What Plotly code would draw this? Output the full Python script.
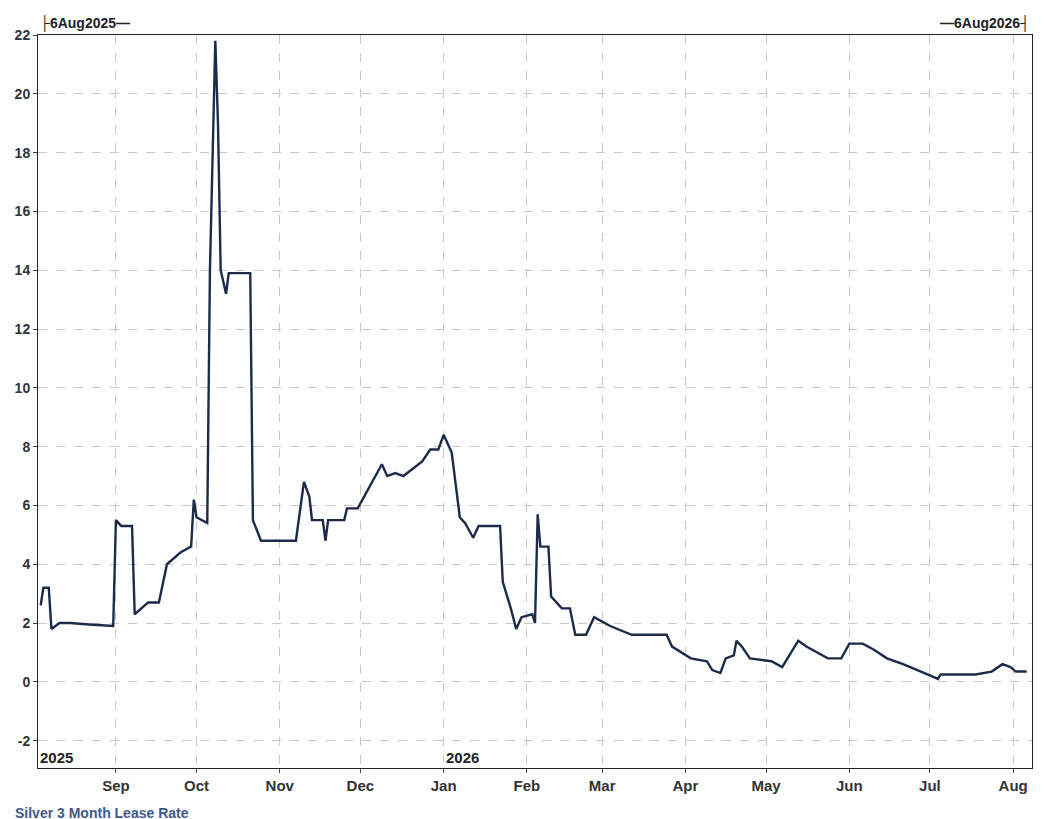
import plotly.graph_objects as go

dates = ["2025-08-04", "2025-08-05", "2025-08-07", "2025-08-08", "2025-08-11", "2025-08-15", "2025-08-22",
         "2025-08-31", "2025-09-01", "2025-09-03", "2025-09-07", "2025-09-08", "2025-09-13", "2025-09-17",
         "2025-09-20", "2025-09-25", "2025-09-29", "2025-09-30", "2025-10-01", "2025-10-05", "2025-10-06",
         "2025-10-08", "2025-10-09", "2025-10-10", "2025-10-12", "2025-10-13", "2025-10-21", "2025-10-22",
         "2025-10-25", "2025-11-07", "2025-11-10", "2025-11-12", "2025-11-13", "2025-11-17", "2025-11-18",
         "2025-11-19", "2025-11-25", "2025-11-26", "2025-11-30", "2025-12-09", "2025-12-11", "2025-12-14",
         "2025-12-17", "2025-12-24", "2025-12-27", "2025-12-30", "2026-01-01", "2026-01-04", "2026-01-07",
         "2026-01-09", "2026-01-12", "2026-01-14", "2026-01-22", "2026-01-23", "2026-01-26", "2026-01-28",
         "2026-01-30", "2026-02-03", "2026-02-04", "2026-02-05", "2026-02-06", "2026-02-09", "2026-02-10",
         "2026-02-14", "2026-02-17", "2026-02-19", "2026-02-23", "2026-02-26", "2026-03-04", "2026-03-12",
         "2026-03-25", "2026-03-27", "2026-04-03", "2026-04-09", "2026-04-11", "2026-04-14", "2026-04-16",
         "2026-04-19", "2026-04-20", "2026-04-22", "2026-04-25", "2026-05-03", "2026-05-07", "2026-05-13",
         "2026-05-16", "2026-05-24", "2026-05-29", "2026-06-01", "2026-06-06", "2026-06-10", "2026-06-15",
         "2026-06-21", "2026-06-29", "2026-07-04", "2026-07-05", "2026-07-18", "2026-07-24", "2026-07-28",
         "2026-07-31", "2026-08-02", "2026-08-06"]
rates = [2.6, 3.2, 3.2, 1.8, 2.0, 2.0, 1.95,
         1.9, 5.5, 5.3, 5.3, 2.3, 2.7, 2.7,
         4.0, 4.4, 4.6, 6.2, 5.6, 5.4, 14.0,
         21.8, 19.0, 14.0, 13.2, 13.9, 13.9, 5.5,
         4.8, 4.8, 6.8, 6.3, 5.5, 5.5, 4.8,
         5.5, 5.5, 5.9, 5.9, 7.4, 7.0, 7.1,
         7.0, 7.5, 7.9, 7.9, 8.4, 7.8, 5.6,
         5.4, 4.9, 5.3, 5.3, 3.4, 2.5, 1.8,
         2.2, 2.3, 2.0, 5.7, 4.6, 4.6, 2.9,
         2.5, 2.5, 1.6, 1.6, 2.2, 1.9, 1.6,
         1.6, 1.2, 0.8, 0.7, 0.4, 0.3, 0.8,
         0.9, 1.4, 1.2, 0.8, 0.7, 0.5, 1.4,
         1.2, 0.8, 0.8, 1.3, 1.3, 1.1, 0.8,
         0.6, 0.3, 0.1, 0.25, 0.25, 0.35, 0.6,
         0.5, 0.35, 0.35]

month_ticks = ["2025-09-01", "2025-10-01", "2025-11-01", "2025-12-01", "2026-01-01", "2026-02-01",
               "2026-03-01", "2026-04-01", "2026-05-01", "2026-06-01", "2026-07-01", "2026-08-01"]
month_labels = ["<b>%s</b>" % m for m in
                ["Sep", "Oct", "Nov", "Dec", "Jan", "Feb", "Mar", "Apr", "May", "Jun", "Jul", "Aug"]]
y_ticks = list(range(-2, 23, 2))
y_labels = ["<b>%d</b>" % v for v in y_ticks]

fnt = dict(family="Liberation Sans, Arial", size=15, color="#333")

fig = go.Figure(go.Scatter(x=dates, y=rates, mode="lines",
                           line=dict(color="#1c2b4a", width=2.4), hoverinfo="x+y"))

grid = dict(showgrid=True, gridcolor="#c8c8c8", griddash="dash", gridwidth=1, automargin=False,
            showline=True, linecolor="#222", linewidth=1, mirror=True, zeroline=False)

fig.update_xaxes(range=["2025-08-03", "2026-08-08"], tickvals=month_ticks, ticktext=month_labels,
                 ticks="outside", ticklen=4, tickfont=fnt, **grid)
fig.update_yaxes(range=[-2.93, 22], tickvals=y_ticks, ticktext=y_labels, ticks="outside", ticklen=4,
                 tickfont=dict(family="Liberation Sans, Arial", size=14, color="#333"), **grid)

fig.update_layout(
    width=1046, height=819, plot_bgcolor="white", paper_bgcolor="white", showlegend=False,
    margin=dict(l=30, r=22, t=27, b=59),
    annotations=[
        dict(text="<b>├6Aug2025—</b>", x=0, xref="paper", y=1, yref="paper", xanchor="left",
             yanchor="bottom", showarrow=False, font=dict(family="Liberation Sans", size=14, color="#222")),
        dict(text="<b>—6Aug2026┤</b>", x=1, xref="paper", y=1, yref="paper", xanchor="right",
             yanchor="bottom", showarrow=False, font=dict(family="Liberation Sans", size=14, color="#222")),
        dict(text="<b>2025</b>", x=0, xref="paper", y=0, yref="paper", xanchor="left",
             yanchor="bottom", showarrow=False, font=dict(family="Liberation Sans", size=15, color="#222")),
        dict(text="<b>2026</b>", x="2026-01-01", xref="x", y=0, yref="paper", xanchor="left",
             yanchor="bottom", showarrow=False, font=dict(family="Liberation Sans", size=15, color="#222")),
        dict(text="<b>Silver 3 Month Lease Rate</b>", x=5, xref="pixel" if False else "paper", y=-0.048,
             yref="paper", xanchor="left", yanchor="top", showarrow=False,
             font=dict(family="Liberation Sans", size=14, color="#3d5a8a")),
    ],
)
fig.layout.annotations[4].x = -0.025

fig.write_html("out.html")
